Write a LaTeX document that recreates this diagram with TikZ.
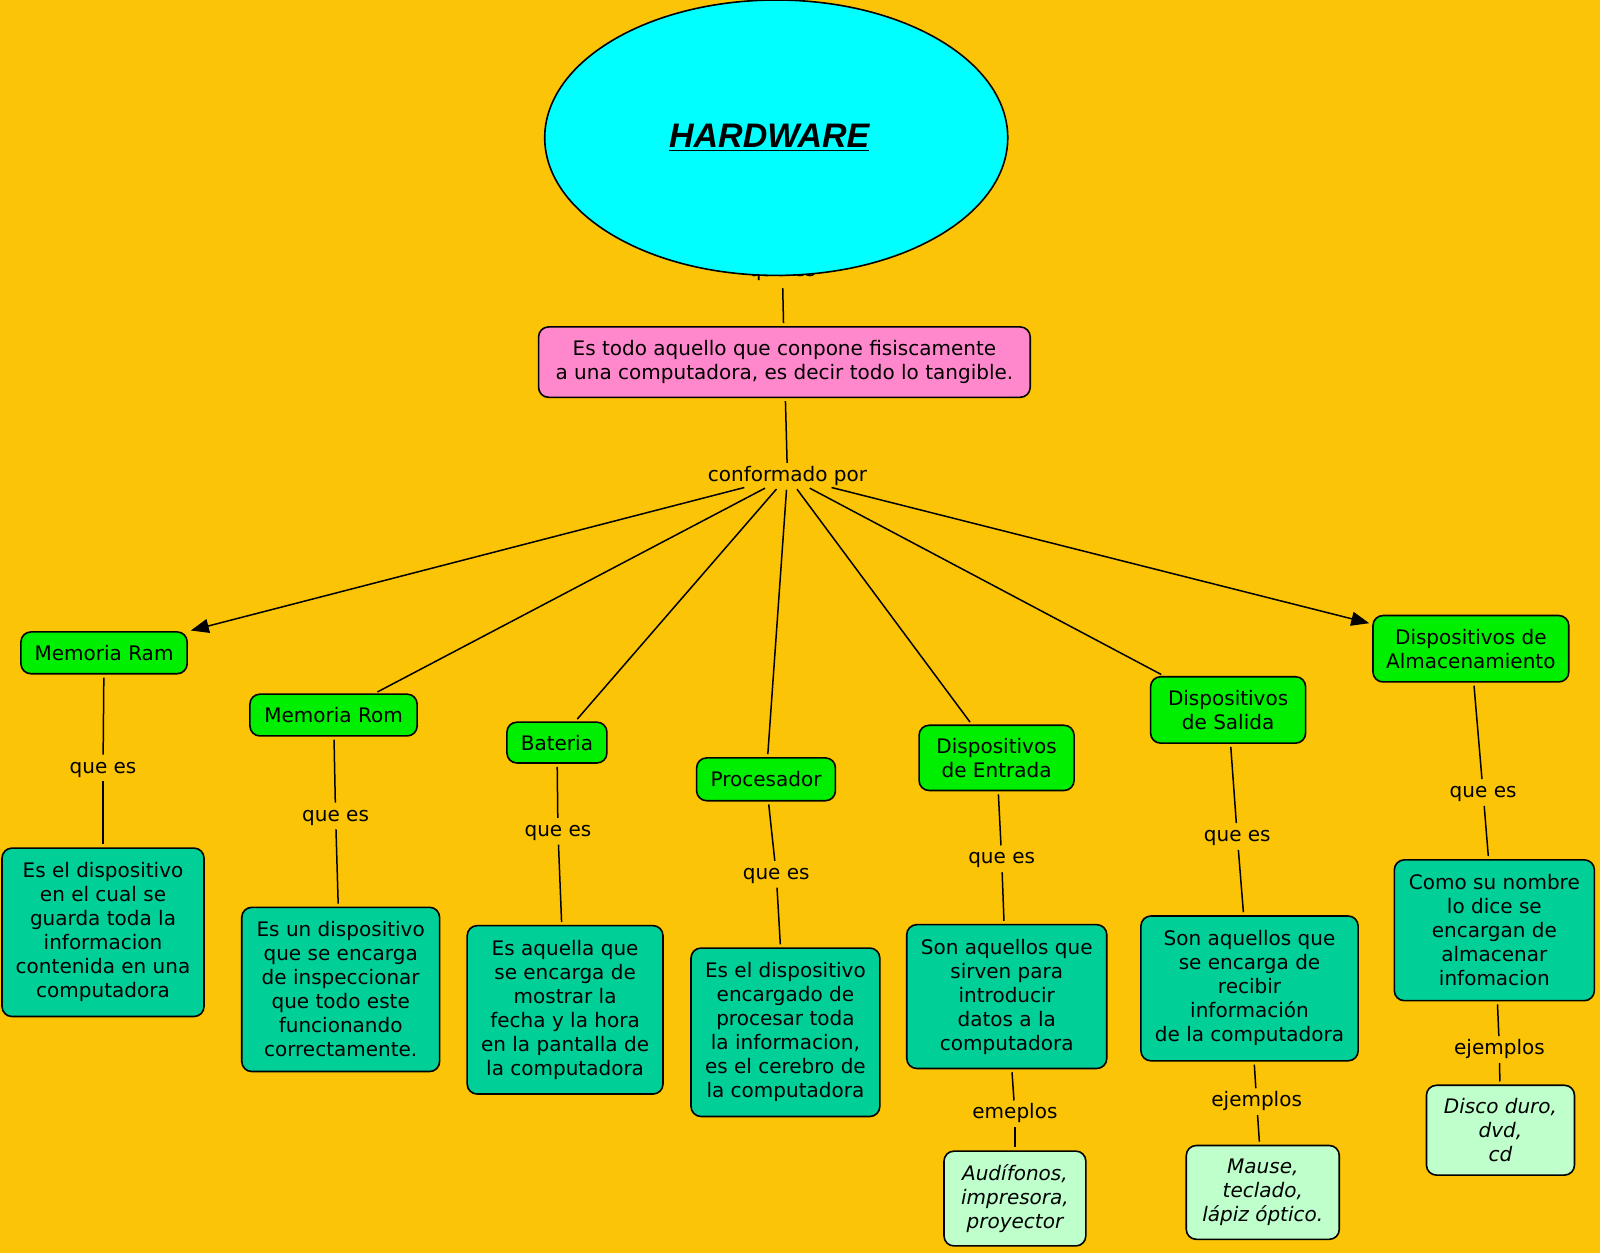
\documentclass[tikz,border=0pt]{standalone}
\usepackage{fontspec}
\setmainfont{DejaVu Sans}
\newfontfamily\titlefont{Liberation Sans}
\usetikzlibrary{shapes.geometric,arrows.meta}
\definecolor{fondo}{RGB}{251,196,6}
\definecolor{cian}{RGB}{0,255,255}
\definecolor{rosa}{RGB}{255,136,204}
\definecolor{verde}{RGB}{0,238,0}
\definecolor{turquesa}{RGB}{0,208,152}
\definecolor{claro}{RGB}{190,255,204}

\begin{document}
\begin{tikzpicture}[x=0.51pt,y=-0.51pt,
  concept/.style={draw,line width=0.8pt,rounded corners=5pt,fill=verde,align=center,inner sep=1pt,font=\fontsize{10}{12}\selectfont},
  detail/.style={concept,fill=turquesa},
  sample/.style={concept,fill=claro,font=\fontsize{10}{12}\selectfont\itshape},
  link/.style={inner sep=0.5pt,text height=7pt,text depth=2pt,font=\fontsize{10}{12}\selectfont},
  con/.style={line width=0.75pt,shorten <=1.5pt,shorten >=1.5pt},
  tip/.style={-{Triangle[length=9pt,width=7pt]}}]
\fill[fondo] (0,0) rectangle (1568.6,1228.4);
\useasboundingbox (0,0) rectangle (1568.6,1228.4);
% top
\node[link] (q0) at (767,266.5) {que es};
\node[draw,ellipse,fill=cian,line width=0.8pt,minimum width=231.5pt,minimum height=137.7pt] (hw) at (761,135)
  {\titlefont\fontsize{17}{19}\selectfont\bfseries\itshape\underline{HARDWARE}\kern7pt};
\node[concept,fill=rosa,minimum width=245.8pt,minimum height=35.2pt] (def) at (769,355)
  {Es todo aquello que conpone fisiscamente\\a una computadora, es decir todo lo tangible.};
\node[link] (conf) at (772,467) {conformado por};
% concepts
\node[concept,minimum width=83.1pt,minimum height=20.9pt] (ram) at (102,640) {Memoria Ram};
\node[concept,minimum width=83.6pt,minimum height=20.9pt] (rom) at (327,701) {Memoria Rom};
\node[concept,minimum width=50pt,minimum height=20.4pt] (bat) at (546,728) {Bateria};
\node[concept,minimum width=69.4pt,minimum height=21.4pt] (proc) at (751,764) {Procesador};
\node[concept,minimum width=77.5pt,minimum height=32.6pt] (ent) at (977,743) {Dispositivos\\de Entrada};
\node[concept,minimum width=77.5pt,minimum height=33.2pt] (sal) at (1204,696) {Dispositivos\\de Salida};
\node[concept,minimum width=97.9pt,minimum height=33.2pt] (alm) at (1442,636) {Dispositivos de\\Almacenamiento};
% que es
\node[link] (qram) at (101,753) {que es};
\node[link] (qrom) at (329,800) {que es};
\node[link] (qbat) at (547,815) {que es};
\node[link] (qproc) at (761,857) {que es};
\node[link] (qent) at (982,842) {que es};
\node[link] (qsal) at (1213,820) {que es};
\node[link] (qalm) at (1454,777) {que es};
% descriptions
\node[detail,minimum width=101pt,minimum height=84.2pt] (dram) at (101,914)
  {Es el dispositivo\\en el cual se\\guarda toda la\\informacion\\contenida en una\\computadora};
\node[detail,minimum width=98.9pt,minimum height=82.1pt] (drom) at (334,970)
  {Es un dispositivo\\que se encarga\\de inspeccionar\\que todo este\\funcionando\\correctamente.};
\node[detail,minimum width=97.9pt,minimum height=84.2pt] (dbat) at (554,990)
  {Es aquella que\\se encarga de\\mostrar la\\fecha y la hora\\en la pantalla de\\la computadora};
\node[detail,minimum width=94.4pt,minimum height=84.2pt] (dproc) at (770,1012)
  {Es el dispositivo\\encargado de\\procesar toda\\la informacion,\\es el cerebro de\\la computadora};
\node[detail,minimum width=100pt,minimum height=71.9pt] (dent) at (987,977)
  {Son aquellos que\\sirven para\\introducir\\datos a la\\computadora};
\node[detail,minimum width=108.6pt,minimum height=72.4pt] (dsal) at (1225,969)
  {Son aquellos que\\se encarga de\\recibir\\información\\de la computadora};
\node[detail,minimum width=100pt,minimum height=70.4pt] (dalm) at (1465,912)
  {Como su nombre\\lo dice se\\encargan de\\almacenar\\infomacion};
% ejemplos
\node[link] (eent) at (995,1092) {emeplos};
\node[link] (esal) at (1232,1080) {ejemplos};
\node[link] (ealm) at (1470,1029) {ejemplos};
\node[sample,minimum width=70.9pt,minimum height=47.4pt] (sent) at (995,1175) {Audífonos,\\impresora,\\proyector};
\node[sample,minimum width=76.5pt,minimum height=46.9pt] (ssal) at (1238,1169) {Mause,\\teclado,\\lápiz óptico.};
\node[sample,minimum width=74pt,minimum height=44.9pt] (salm) at (1471,1108) {Disco duro,\\dvd,\\cd};
% connectors
\draw[con,shorten <=3pt] (q0) -- (def);
\draw[con] (def) -- (conf);
\draw[con,tip] (conf) -- (ram);
\draw[con,tip] (conf) -- (alm);
\foreach \n in {rom,bat,proc,ent,sal}
  \draw[con] (conf) -- (\n);
\foreach \a/\b/\c in {ram/qram/dram,rom/qrom/drom,bat/qbat/dbat,proc/qproc/dproc,ent/qent/dent,sal/qsal/dsal,alm/qalm/dalm,dent/eent/sent,dsal/esal/ssal,dalm/ealm/salm}{
  \draw[con] (\a) -- (\b);
  \draw[con] (\b) -- (\c);
}
\end{tikzpicture}
\end{document}
